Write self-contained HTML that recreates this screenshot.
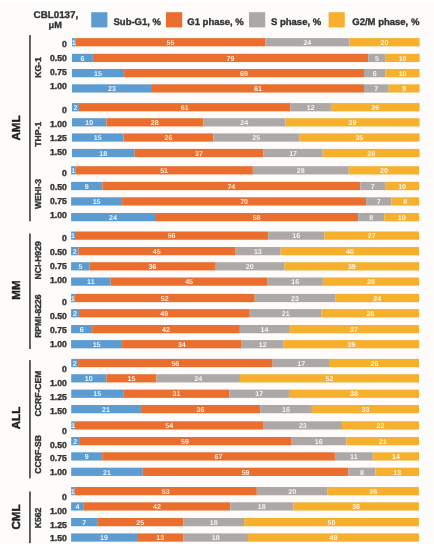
<!DOCTYPE html><html><head><meta charset="utf-8"><title>CBL0137 cell cycle</title><style>html,body{margin:0;padding:0;background:#fff;}body{width:434px;height:550px;overflow:hidden;}svg{display:block;}text{font-family:"Liberation Sans",Arial,sans-serif;font-weight:bold;text-rendering:geometricPrecision;}.ax{fill:#333333;font-size:8.6px;stroke:#333;stroke-width:0.4px;}.grp{fill:#1e1e1e;font-size:11.6px;stroke:#1e1e1e;stroke-width:0.4px;}.seg{fill:#ffffff;font-size:7.1px;font-weight:bold;fill-opacity:0.88;}.leg{fill:#333333;font-size:9.5px;stroke:#333;stroke-width:0.35px;}</style></head><body>
<svg width="434" height="550" viewBox="0 0 434 550">
<rect x="0" y="0" width="434" height="550" fill="#ffffff"/>
<rect x="0" y="1.6" width="434" height="542.2" fill="#fdfcfb"/>
<text class="leg" x="55.9" y="18.3" text-anchor="middle" style="font-size:9.8px">CBL0137,</text>
<text class="leg" x="55.2" y="27.9" text-anchor="middle" style="font-size:9.2px">μM</text>
<rect x="91.2" y="12.2" width="16.2" height="15.2" fill="#5d9cd1"/>
<text class="leg" x="113.5" y="24.5">Sub-G1, %</text>
<rect x="166.0" y="12.2" width="16.2" height="15.2" fill="#ea6e2d"/>
<text class="leg" x="187.3" y="24.5">G1 phase, %</text>
<rect x="249.0" y="12.2" width="16.2" height="15.2" fill="#ada8a5"/>
<text class="leg" x="271.0" y="24.5">S phase, %</text>
<rect x="328.6" y="12.2" width="16.2" height="15.2" fill="#f6b02e"/>
<text class="leg" x="352.3" y="24.5">G2/M phase, %</text>
<rect x="72.00" y="38.10" width="3.48" height="8.25" fill="#5d9cd1"/>
<rect x="75.48" y="38.10" width="189.98" height="8.25" fill="#ea6e2d"/>
<rect x="265.46" y="38.10" width="83.82" height="8.25" fill="#ada8a5"/>
<rect x="349.28" y="38.10" width="70.32" height="8.25" fill="#f6b02e"/>
<text class="seg" x="73.74" y="44.93" text-anchor="middle">1</text>
<text class="seg" x="170.47" y="44.93" text-anchor="middle">55</text>
<text class="seg" x="307.37" y="44.93" text-anchor="middle">24</text>
<text class="seg" x="384.44" y="44.93" text-anchor="middle">20</text>
<text class="ax" x="66.8" y="47.0" text-anchor="end">0</text>
<rect x="72.00" y="53.80" width="20.86" height="8.25" fill="#5d9cd1"/>
<rect x="92.86" y="53.80" width="275.40" height="8.25" fill="#ea6e2d"/>
<rect x="368.26" y="53.80" width="17.38" height="8.25" fill="#ada8a5"/>
<rect x="385.64" y="53.80" width="33.96" height="8.25" fill="#f6b02e"/>
<text class="seg" x="82.43" y="60.62" text-anchor="middle">6</text>
<text class="seg" x="230.56" y="60.62" text-anchor="middle">79</text>
<text class="seg" x="376.95" y="60.62" text-anchor="middle">5</text>
<text class="seg" x="402.62" y="60.62" text-anchor="middle">10</text>
<text class="ax" x="66.8" y="61.2" text-anchor="end">0.50</text>
<rect x="72.00" y="69.00" width="52.14" height="8.25" fill="#5d9cd1"/>
<rect x="124.14" y="69.00" width="239.84" height="8.25" fill="#ea6e2d"/>
<rect x="363.98" y="69.00" width="21.66" height="8.25" fill="#ada8a5"/>
<rect x="385.64" y="69.00" width="33.96" height="8.25" fill="#f6b02e"/>
<text class="seg" x="98.07" y="75.83" text-anchor="middle">15</text>
<text class="seg" x="244.06" y="75.83" text-anchor="middle">69</text>
<text class="seg" x="374.81" y="75.83" text-anchor="middle">6</text>
<text class="seg" x="402.62" y="75.83" text-anchor="middle">10</text>
<text class="ax" x="66.8" y="75.1" text-anchor="end">0.75</text>
<rect x="72.00" y="84.30" width="79.95" height="8.25" fill="#5d9cd1"/>
<rect x="151.95" y="84.30" width="212.04" height="8.25" fill="#ea6e2d"/>
<rect x="363.98" y="84.30" width="24.73" height="8.25" fill="#ada8a5"/>
<rect x="388.72" y="84.30" width="30.88" height="8.25" fill="#f6b02e"/>
<text class="seg" x="111.97" y="91.12" text-anchor="middle">23</text>
<text class="seg" x="257.97" y="91.12" text-anchor="middle">61</text>
<text class="seg" x="376.35" y="91.12" text-anchor="middle">7</text>
<text class="seg" x="404.16" y="91.12" text-anchor="middle">9</text>
<text class="ax" x="66.8" y="89.3" text-anchor="end">1.00</text>
<text class="ax" x="41.3" y="67.5" text-anchor="middle" transform="rotate(-90 41.3 67.5)">KG-1</text>
<rect x="72.00" y="103.10" width="6.88" height="8.25" fill="#5d9cd1"/>
<rect x="78.88" y="103.10" width="211.64" height="8.25" fill="#ea6e2d"/>
<rect x="290.52" y="103.10" width="40.40" height="8.25" fill="#ada8a5"/>
<rect x="330.92" y="103.10" width="88.68" height="8.25" fill="#f6b02e"/>
<text class="seg" x="75.44" y="109.92" text-anchor="middle">2</text>
<text class="seg" x="184.70" y="109.92" text-anchor="middle">61</text>
<text class="seg" x="310.72" y="109.92" text-anchor="middle">12</text>
<text class="seg" x="375.26" y="109.92" text-anchor="middle">26</text>
<text class="ax" x="66.8" y="112.9" text-anchor="end">0</text>
<rect x="72.00" y="118.20" width="34.42" height="8.25" fill="#5d9cd1"/>
<rect x="106.42" y="118.20" width="96.76" height="8.25" fill="#ea6e2d"/>
<rect x="203.18" y="118.20" width="82.20" height="8.25" fill="#ada8a5"/>
<rect x="285.38" y="118.20" width="134.22" height="8.25" fill="#f6b02e"/>
<text class="seg" x="89.21" y="125.03" text-anchor="middle">10</text>
<text class="seg" x="154.80" y="125.03" text-anchor="middle">28</text>
<text class="seg" x="244.28" y="125.03" text-anchor="middle">24</text>
<text class="seg" x="352.49" y="125.03" text-anchor="middle">39</text>
<text class="ax" x="66.8" y="126.7" text-anchor="end">1.00</text>
<rect x="72.00" y="133.40" width="51.62" height="8.25" fill="#5d9cd1"/>
<rect x="123.62" y="133.40" width="89.88" height="8.25" fill="#ea6e2d"/>
<rect x="213.50" y="133.40" width="85.64" height="8.25" fill="#ada8a5"/>
<rect x="299.14" y="133.40" width="120.46" height="8.25" fill="#f6b02e"/>
<text class="seg" x="97.81" y="140.22" text-anchor="middle">15</text>
<text class="seg" x="168.56" y="140.22" text-anchor="middle">26</text>
<text class="seg" x="256.32" y="140.22" text-anchor="middle">25</text>
<text class="seg" x="359.37" y="140.22" text-anchor="middle">35</text>
<text class="ax" x="66.8" y="140.9" text-anchor="end">1.25</text>
<rect x="72.00" y="148.90" width="62.57" height="8.25" fill="#5d9cd1"/>
<rect x="134.57" y="148.90" width="129.01" height="8.25" fill="#ea6e2d"/>
<rect x="263.58" y="148.90" width="59.09" height="8.25" fill="#ada8a5"/>
<rect x="322.67" y="148.90" width="96.93" height="8.25" fill="#f6b02e"/>
<text class="seg" x="103.28" y="155.72" text-anchor="middle">18</text>
<text class="seg" x="199.07" y="155.72" text-anchor="middle">37</text>
<text class="seg" x="293.13" y="155.72" text-anchor="middle">17</text>
<text class="seg" x="371.14" y="155.72" text-anchor="middle">28</text>
<text class="ax" x="66.8" y="154.7" text-anchor="end">1.50</text>
<text class="ax" x="41.3" y="134.2" text-anchor="middle" transform="rotate(-90 41.3 134.2)">THP-1</text>
<rect x="71.10" y="166.20" width="4.28" height="8.25" fill="#5d9cd1"/>
<rect x="75.38" y="166.20" width="177.48" height="8.25" fill="#ea6e2d"/>
<rect x="252.86" y="166.20" width="95.84" height="8.25" fill="#ada8a5"/>
<rect x="348.70" y="166.20" width="70.40" height="8.25" fill="#f6b02e"/>
<text class="seg" x="73.24" y="173.02" text-anchor="middle">1</text>
<text class="seg" x="164.12" y="173.02" text-anchor="middle">51</text>
<text class="seg" x="300.78" y="173.02" text-anchor="middle">28</text>
<text class="seg" x="383.90" y="173.02" text-anchor="middle">20</text>
<text class="ax" x="66.8" y="175.9" text-anchor="end">0</text>
<rect x="71.10" y="181.90" width="31.32" height="8.25" fill="#5d9cd1"/>
<rect x="102.42" y="181.90" width="257.92" height="8.25" fill="#ea6e2d"/>
<rect x="360.34" y="181.90" width="24.76" height="8.25" fill="#ada8a5"/>
<rect x="385.10" y="181.90" width="34.00" height="8.25" fill="#f6b02e"/>
<text class="seg" x="86.76" y="188.72" text-anchor="middle">9</text>
<text class="seg" x="231.38" y="188.72" text-anchor="middle">74</text>
<text class="seg" x="372.72" y="188.72" text-anchor="middle">7</text>
<text class="seg" x="402.10" y="188.72" text-anchor="middle">10</text>
<text class="ax" x="66.8" y="189.9" text-anchor="end">0.50</text>
<rect x="71.10" y="197.30" width="51.00" height="8.25" fill="#5d9cd1"/>
<rect x="122.10" y="197.30" width="244.00" height="8.25" fill="#ea6e2d"/>
<rect x="366.10" y="197.30" width="25.16" height="8.25" fill="#ada8a5"/>
<rect x="391.26" y="197.30" width="27.84" height="8.25" fill="#f6b02e"/>
<text class="seg" x="96.60" y="204.12" text-anchor="middle">15</text>
<text class="seg" x="244.10" y="204.12" text-anchor="middle">70</text>
<text class="seg" x="378.68" y="204.12" text-anchor="middle">7</text>
<text class="seg" x="405.18" y="204.12" text-anchor="middle">8</text>
<text class="ax" x="66.8" y="204.0" text-anchor="end">0.75</text>
<rect x="71.10" y="213.00" width="83.92" height="8.25" fill="#5d9cd1"/>
<rect x="155.02" y="213.00" width="203.14" height="8.25" fill="#ea6e2d"/>
<rect x="358.16" y="213.00" width="26.14" height="8.25" fill="#ada8a5"/>
<rect x="384.30" y="213.00" width="34.80" height="8.25" fill="#f6b02e"/>
<text class="seg" x="113.06" y="219.82" text-anchor="middle">24</text>
<text class="seg" x="256.59" y="219.82" text-anchor="middle">58</text>
<text class="seg" x="371.23" y="219.82" text-anchor="middle">8</text>
<text class="seg" x="401.70" y="219.82" text-anchor="middle">10</text>
<text class="ax" x="66.8" y="217.9" text-anchor="end">1.00</text>
<text class="ax" x="41.3" y="194.0" text-anchor="middle" transform="rotate(-90 41.3 194.0)">WEHI-3</text>
<rect x="71.10" y="231.50" width="3.88" height="8.25" fill="#5d9cd1"/>
<rect x="74.98" y="231.50" width="193.28" height="8.25" fill="#ea6e2d"/>
<rect x="268.26" y="231.50" width="56.08" height="8.25" fill="#ada8a5"/>
<rect x="324.34" y="231.50" width="94.76" height="8.25" fill="#f6b02e"/>
<text class="seg" x="73.04" y="238.32" text-anchor="middle">1</text>
<text class="seg" x="171.62" y="238.32" text-anchor="middle">56</text>
<text class="seg" x="296.30" y="238.32" text-anchor="middle">16</text>
<text class="seg" x="371.72" y="238.32" text-anchor="middle">27</text>
<text class="ax" x="66.8" y="241.1" text-anchor="end">0</text>
<rect x="71.10" y="247.00" width="7.36" height="8.25" fill="#5d9cd1"/>
<rect x="78.46" y="247.00" width="156.60" height="8.25" fill="#ea6e2d"/>
<rect x="235.06" y="247.00" width="45.64" height="8.25" fill="#ada8a5"/>
<rect x="280.70" y="247.00" width="138.40" height="8.25" fill="#f6b02e"/>
<text class="seg" x="74.78" y="253.82" text-anchor="middle">2</text>
<text class="seg" x="156.76" y="253.82" text-anchor="middle">45</text>
<text class="seg" x="257.88" y="253.82" text-anchor="middle">13</text>
<text class="seg" x="349.90" y="253.82" text-anchor="middle">40</text>
<text class="ax" x="66.8" y="255.3" text-anchor="end">0.50</text>
<rect x="71.10" y="262.20" width="18.60" height="8.25" fill="#5d9cd1"/>
<rect x="89.70" y="262.20" width="125.28" height="8.25" fill="#ea6e2d"/>
<rect x="214.98" y="262.20" width="69.60" height="8.25" fill="#ada8a5"/>
<rect x="284.58" y="262.20" width="134.52" height="8.25" fill="#f6b02e"/>
<text class="seg" x="80.40" y="269.02" text-anchor="middle">5</text>
<text class="seg" x="152.34" y="269.02" text-anchor="middle">36</text>
<text class="seg" x="249.78" y="269.02" text-anchor="middle">20</text>
<text class="seg" x="351.84" y="269.02" text-anchor="middle">39</text>
<text class="ax" x="66.8" y="269.2" text-anchor="end">0.75</text>
<rect x="71.10" y="277.50" width="39.48" height="8.25" fill="#5d9cd1"/>
<rect x="110.58" y="277.50" width="157.10" height="8.25" fill="#ea6e2d"/>
<rect x="267.68" y="277.50" width="55.18" height="8.25" fill="#ada8a5"/>
<rect x="322.86" y="277.50" width="96.24" height="8.25" fill="#f6b02e"/>
<text class="seg" x="90.84" y="284.32" text-anchor="middle">11</text>
<text class="seg" x="189.13" y="284.32" text-anchor="middle">45</text>
<text class="seg" x="295.27" y="284.32" text-anchor="middle">16</text>
<text class="seg" x="370.98" y="284.32" text-anchor="middle">28</text>
<text class="ax" x="66.8" y="283.1" text-anchor="end">1.00</text>
<text class="ax" x="41.3" y="260.4" text-anchor="middle" transform="rotate(-90 41.3 260.4)">NCI-H929</text>
<rect x="71.10" y="293.90" width="3.48" height="8.25" fill="#5d9cd1"/>
<rect x="74.58" y="293.90" width="180.16" height="8.25" fill="#ea6e2d"/>
<rect x="254.74" y="293.90" width="80.44" height="8.25" fill="#ada8a5"/>
<rect x="335.18" y="293.90" width="83.92" height="8.25" fill="#f6b02e"/>
<text class="seg" x="72.84" y="300.72" text-anchor="middle">1</text>
<text class="seg" x="164.66" y="300.72" text-anchor="middle">52</text>
<text class="seg" x="294.96" y="300.72" text-anchor="middle">23</text>
<text class="seg" x="377.14" y="300.72" text-anchor="middle">24</text>
<text class="ax" x="66.8" y="304.7" text-anchor="end">0</text>
<rect x="71.10" y="309.10" width="7.76" height="8.25" fill="#5d9cd1"/>
<rect x="78.86" y="309.10" width="170.92" height="8.25" fill="#ea6e2d"/>
<rect x="249.78" y="309.10" width="71.88" height="8.25" fill="#ada8a5"/>
<rect x="321.66" y="309.10" width="97.44" height="8.25" fill="#f6b02e"/>
<text class="seg" x="74.98" y="315.93" text-anchor="middle">2</text>
<text class="seg" x="164.32" y="315.93" text-anchor="middle">49</text>
<text class="seg" x="285.72" y="315.93" text-anchor="middle">21</text>
<text class="seg" x="370.38" y="315.93" text-anchor="middle">28</text>
<text class="ax" x="66.8" y="318.6" text-anchor="end">0.50</text>
<rect x="71.10" y="325.00" width="21.09" height="8.25" fill="#5d9cd1"/>
<rect x="92.19" y="325.00" width="147.64" height="8.25" fill="#ea6e2d"/>
<rect x="239.83" y="325.00" width="49.21" height="8.25" fill="#ada8a5"/>
<rect x="289.04" y="325.00" width="130.06" height="8.25" fill="#f6b02e"/>
<text class="seg" x="81.65" y="331.82" text-anchor="middle">6</text>
<text class="seg" x="166.01" y="331.82" text-anchor="middle">42</text>
<text class="seg" x="264.43" y="331.82" text-anchor="middle">14</text>
<text class="seg" x="354.07" y="331.82" text-anchor="middle">37</text>
<text class="ax" x="66.8" y="332.5" text-anchor="end">0.75</text>
<rect x="71.10" y="340.10" width="51.00" height="8.25" fill="#5d9cd1"/>
<rect x="122.10" y="340.10" width="119.52" height="8.25" fill="#ea6e2d"/>
<rect x="241.62" y="340.10" width="42.16" height="8.25" fill="#ada8a5"/>
<rect x="283.78" y="340.10" width="135.32" height="8.25" fill="#f6b02e"/>
<text class="seg" x="96.60" y="346.93" text-anchor="middle">15</text>
<text class="seg" x="181.86" y="346.93" text-anchor="middle">34</text>
<text class="seg" x="262.70" y="346.93" text-anchor="middle">12</text>
<text class="seg" x="351.44" y="346.93" text-anchor="middle">39</text>
<text class="ax" x="66.8" y="346.7" text-anchor="end">1.00</text>
<text class="ax" x="41.3" y="316.1" text-anchor="middle" transform="rotate(-90 41.3 316.1)">RPMI-8226</text>
<rect x="71.20" y="358.90" width="6.89" height="8.25" fill="#5d9cd1"/>
<rect x="78.09" y="358.90" width="194.54" height="8.25" fill="#ea6e2d"/>
<rect x="272.63" y="358.90" width="57.24" height="8.25" fill="#ada8a5"/>
<rect x="329.87" y="358.90" width="89.13" height="8.25" fill="#f6b02e"/>
<text class="seg" x="74.64" y="365.72" text-anchor="middle">2</text>
<text class="seg" x="175.36" y="365.72" text-anchor="middle">56</text>
<text class="seg" x="301.25" y="365.72" text-anchor="middle">17</text>
<text class="seg" x="374.43" y="365.72" text-anchor="middle">26</text>
<text class="ax" x="66.8" y="371.9" text-anchor="end">0</text>
<rect x="71.20" y="374.20" width="35.24" height="8.25" fill="#5d9cd1"/>
<rect x="106.44" y="374.20" width="50.05" height="8.25" fill="#ea6e2d"/>
<rect x="156.49" y="374.20" width="83.45" height="8.25" fill="#ada8a5"/>
<rect x="239.93" y="374.20" width="179.07" height="8.25" fill="#f6b02e"/>
<text class="seg" x="88.82" y="381.02" text-anchor="middle">10</text>
<text class="seg" x="131.46" y="381.02" text-anchor="middle">15</text>
<text class="seg" x="198.21" y="381.02" text-anchor="middle">24</text>
<text class="seg" x="329.47" y="381.02" text-anchor="middle">52</text>
<text class="ax" x="66.8" y="385.9" text-anchor="end">1.00</text>
<rect x="71.20" y="389.60" width="52.05" height="8.25" fill="#5d9cd1"/>
<rect x="123.25" y="389.60" width="106.35" height="8.25" fill="#ea6e2d"/>
<rect x="229.60" y="389.60" width="59.34" height="8.25" fill="#ada8a5"/>
<rect x="288.94" y="389.60" width="130.06" height="8.25" fill="#f6b02e"/>
<text class="seg" x="97.23" y="396.43" text-anchor="middle">15</text>
<text class="seg" x="176.43" y="396.43" text-anchor="middle">31</text>
<text class="seg" x="259.27" y="396.43" text-anchor="middle">17</text>
<text class="seg" x="353.97" y="396.43" text-anchor="middle">38</text>
<text class="ax" x="66.8" y="399.9" text-anchor="end">1.25</text>
<rect x="71.20" y="405.00" width="69.70" height="8.25" fill="#5d9cd1"/>
<rect x="140.90" y="405.00" width="119.32" height="8.25" fill="#ea6e2d"/>
<rect x="260.22" y="405.00" width="51.70" height="8.25" fill="#ada8a5"/>
<rect x="311.92" y="405.00" width="107.08" height="8.25" fill="#f6b02e"/>
<text class="seg" x="106.05" y="411.82" text-anchor="middle">21</text>
<text class="seg" x="200.56" y="411.82" text-anchor="middle">36</text>
<text class="seg" x="286.07" y="411.82" text-anchor="middle">16</text>
<text class="seg" x="365.46" y="411.82" text-anchor="middle">33</text>
<text class="ax" x="66.8" y="413.9" text-anchor="end">1.50</text>
<text class="ax" x="41.3" y="393.5" text-anchor="middle" transform="rotate(-90 41.3 393.5)">CCRF-CEM</text>
<rect x="71.20" y="421.30" width="3.48" height="8.25" fill="#5d9cd1"/>
<rect x="74.68" y="421.30" width="189.01" height="8.25" fill="#ea6e2d"/>
<rect x="263.69" y="421.30" width="78.29" height="8.25" fill="#ada8a5"/>
<rect x="341.98" y="421.30" width="77.02" height="8.25" fill="#f6b02e"/>
<text class="seg" x="72.94" y="428.12" text-anchor="middle">1</text>
<text class="seg" x="169.18" y="428.12" text-anchor="middle">54</text>
<text class="seg" x="302.84" y="428.12" text-anchor="middle">23</text>
<text class="seg" x="380.49" y="428.12" text-anchor="middle">22</text>
<text class="ax" x="66.8" y="433.6" text-anchor="end">0</text>
<rect x="71.20" y="437.00" width="7.90" height="8.25" fill="#5d9cd1"/>
<rect x="79.10" y="437.00" width="211.89" height="8.25" fill="#ea6e2d"/>
<rect x="290.99" y="437.00" width="55.48" height="8.25" fill="#ada8a5"/>
<rect x="346.47" y="437.00" width="72.53" height="8.25" fill="#f6b02e"/>
<text class="seg" x="75.15" y="443.82" text-anchor="middle">2</text>
<text class="seg" x="185.04" y="443.82" text-anchor="middle">59</text>
<text class="seg" x="318.73" y="443.82" text-anchor="middle">16</text>
<text class="seg" x="382.74" y="443.82" text-anchor="middle">21</text>
<text class="ax" x="66.8" y="447.5" text-anchor="end">0.50</text>
<rect x="71.20" y="452.30" width="30.99" height="8.25" fill="#5d9cd1"/>
<rect x="102.19" y="452.30" width="232.72" height="8.25" fill="#ea6e2d"/>
<rect x="334.91" y="452.30" width="37.88" height="8.25" fill="#ada8a5"/>
<rect x="372.79" y="452.30" width="46.21" height="8.25" fill="#f6b02e"/>
<text class="seg" x="86.70" y="459.12" text-anchor="middle">9</text>
<text class="seg" x="218.55" y="459.12" text-anchor="middle">67</text>
<text class="seg" x="353.85" y="459.12" text-anchor="middle">11</text>
<text class="seg" x="395.90" y="459.12" text-anchor="middle">14</text>
<text class="ax" x="66.8" y="461.4" text-anchor="end">0.75</text>
<rect x="71.20" y="467.70" width="71.51" height="8.25" fill="#5d9cd1"/>
<rect x="142.71" y="467.70" width="205.77" height="8.25" fill="#ea6e2d"/>
<rect x="348.49" y="467.70" width="26.95" height="8.25" fill="#ada8a5"/>
<rect x="375.43" y="467.70" width="43.57" height="8.25" fill="#f6b02e"/>
<text class="seg" x="106.96" y="474.52" text-anchor="middle">21</text>
<text class="seg" x="245.60" y="474.52" text-anchor="middle">59</text>
<text class="seg" x="361.96" y="474.52" text-anchor="middle">8</text>
<text class="seg" x="397.22" y="474.52" text-anchor="middle">13</text>
<text class="ax" x="66.8" y="475.4" text-anchor="end">1.00</text>
<text class="ax" x="41.3" y="454.3" text-anchor="middle" transform="rotate(-90 41.3 454.3)">CCRF-SB</text>
<rect x="71.10" y="487.00" width="3.48" height="8.25" fill="#5d9cd1"/>
<rect x="74.58" y="487.00" width="182.23" height="8.25" fill="#ea6e2d"/>
<rect x="256.81" y="487.00" width="70.86" height="8.25" fill="#ada8a5"/>
<rect x="327.67" y="487.00" width="91.23" height="8.25" fill="#f6b02e"/>
<text class="seg" x="72.84" y="493.82" text-anchor="middle">1</text>
<text class="seg" x="165.69" y="493.82" text-anchor="middle">53</text>
<text class="seg" x="292.24" y="493.82" text-anchor="middle">20</text>
<text class="seg" x="373.29" y="493.82" text-anchor="middle">26</text>
<text class="ax" x="66.8" y="499.5" text-anchor="end">0</text>
<rect x="71.10" y="502.30" width="12.71" height="8.25" fill="#5d9cd1"/>
<rect x="83.81" y="502.30" width="146.48" height="8.25" fill="#ea6e2d"/>
<rect x="230.29" y="502.30" width="63.00" height="8.25" fill="#ada8a5"/>
<rect x="293.29" y="502.30" width="125.61" height="8.25" fill="#f6b02e"/>
<text class="seg" x="77.46" y="509.12" text-anchor="middle">4</text>
<text class="seg" x="157.05" y="509.12" text-anchor="middle">42</text>
<text class="seg" x="261.79" y="509.12" text-anchor="middle">18</text>
<text class="seg" x="356.10" y="509.12" text-anchor="middle">36</text>
<text class="ax" x="66.8" y="513.6" text-anchor="end">1.00</text>
<rect x="71.10" y="518.00" width="26.05" height="8.25" fill="#5d9cd1"/>
<rect x="97.15" y="518.00" width="86.05" height="8.25" fill="#ea6e2d"/>
<rect x="183.20" y="518.00" width="61.00" height="8.25" fill="#ada8a5"/>
<rect x="244.20" y="518.00" width="174.70" height="8.25" fill="#f6b02e"/>
<text class="seg" x="84.12" y="524.83" text-anchor="middle">7</text>
<text class="seg" x="140.17" y="524.83" text-anchor="middle">25</text>
<text class="seg" x="213.70" y="524.83" text-anchor="middle">18</text>
<text class="seg" x="331.55" y="524.83" text-anchor="middle">50</text>
<text class="ax" x="66.8" y="527.5" text-anchor="end">1.25</text>
<rect x="71.10" y="533.40" width="65.95" height="8.25" fill="#5d9cd1"/>
<rect x="137.05" y="533.40" width="46.47" height="8.25" fill="#ea6e2d"/>
<rect x="183.52" y="533.40" width="64.44" height="8.25" fill="#ada8a5"/>
<rect x="247.96" y="533.40" width="170.94" height="8.25" fill="#f6b02e"/>
<text class="seg" x="104.07" y="540.23" text-anchor="middle">19</text>
<text class="seg" x="160.28" y="540.23" text-anchor="middle">13</text>
<text class="seg" x="215.74" y="540.23" text-anchor="middle">18</text>
<text class="seg" x="333.43" y="540.23" text-anchor="middle">49</text>
<text class="ax" x="66.8" y="541.4" text-anchor="end">1.50</text>
<text class="ax" x="41.3" y="518.0" text-anchor="middle" transform="rotate(-90 41.3 518.0)">K562</text>
<rect x="29.1" y="35.1" width="1.7" height="186.3" fill="#464646"/>
<text class="grp" x="19.6" y="128.0" text-anchor="middle" transform="rotate(-90 19.6 128.0)">AML</text>
<rect x="29.1" y="233.5" width="1.7" height="115.5" fill="#464646"/>
<text class="grp" x="19.6" y="290.0" text-anchor="middle" transform="rotate(-90 19.6 290.0)">MM</text>
<rect x="29.1" y="360.1" width="1.7" height="118.3" fill="#464646"/>
<text class="grp" x="19.6" y="418.0" text-anchor="middle" transform="rotate(-90 19.6 418.0)">ALL</text>
<rect x="29.1" y="491.5" width="1.7" height="51.7" fill="#464646"/>
<text class="grp" x="19.6" y="517.0" text-anchor="middle" transform="rotate(-90 19.6 517.0)">CML</text>
</svg></body></html>
